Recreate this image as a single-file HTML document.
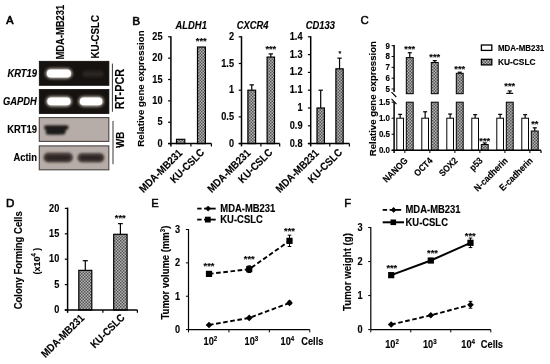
<!DOCTYPE html><html><head><meta charset="utf-8"><style>html,body{margin:0;padding:0;background:#fff;width:550px;height:364px;overflow:hidden}svg{display:block}text{font-family:'Liberation Sans', Arial, sans-serif;fill:#000;stroke:#000;stroke-width:0.12px}</style></head><body>
<svg width="550" height="364" viewBox="0 0 550 364">
<defs>
<pattern id="hat" width="3" height="3" patternUnits="userSpaceOnUse"><rect width="3" height="3" fill="#b4b4b4"/><rect x="0" y="0" width="1.5" height="1.5" fill="#555"/><rect x="1.5" y="1.5" width="1.5" height="1.5" fill="#555"/></pattern>
<filter id="blur1" x="-50%" y="-50%" width="200%" height="200%"><feGaussianBlur stdDeviation="1.6"/></filter>
<filter id="blur2" x="-50%" y="-50%" width="200%" height="200%"><feGaussianBlur stdDeviation="1.1"/></filter>
<filter id="blur3" x="-50%" y="-50%" width="200%" height="200%"><feGaussianBlur stdDeviation="0.6"/></filter>
</defs>
<rect width="550" height="364" fill="#fff"/>
<text transform="translate(6.30 23.90)" font-size="10.8" font-weight="normal" style="stroke-width:0.7px">A</text>
<text transform="translate(64.30 59.50) rotate(-90) scale(1 1.12)" font-size="9.4" font-weight="bold">MDA-MB231</text>
<text transform="translate(99.30 58.60) rotate(-90) scale(1 1.04)" font-size="9.7" font-weight="bold">KU-CSLC</text>
<rect x="39.30" y="61.30" width="69.60" height="24.00" fill="#15120f" stroke="#0d0b0a" stroke-width="0.8"/>
<rect x="39.30" y="89.50" width="69.60" height="24.00" fill="#15120f" stroke="#0d0b0a" stroke-width="0.8"/>
<rect x="45.60" y="68.40" width="26.60" height="10.20" rx="5.10" fill="#cfc6bc" filter="url(#blur1)"/>
<rect x="46.80" y="69.60" width="24.20" height="7.80" rx="3.90" fill="#fff" filter="url(#blur3)"/>
<rect x="82.5" y="71" width="21" height="6" rx="3" fill="#2c2521" filter="url(#blur1)"/>
<rect x="46.10" y="96.40" width="25.60" height="10.00" rx="5.00" fill="#cfc6bc" filter="url(#blur1)"/>
<rect x="47.30" y="97.60" width="23.20" height="7.60" rx="3.80" fill="#fff" filter="url(#blur3)"/>
<rect x="78.60" y="96.40" width="25.00" height="10.00" rx="5.00" fill="#cfc6bc" filter="url(#blur1)"/>
<rect x="79.80" y="97.60" width="22.60" height="7.60" rx="3.80" fill="#fff" filter="url(#blur3)"/>
<rect x="39.30" y="117.60" width="69.50" height="23.80" fill="#b7ada8" stroke="#4a4442" stroke-width="1.1"/>
<rect x="39.30" y="145.90" width="69.50" height="23.90" fill="#b7ada8" stroke="#4a4442" stroke-width="1.1"/>
<path d="M44 127.3 Q44 125.3 47 125.2 L66 125.3 Q69 125.6 68.6 127.8 Q68 129.4 65.8 130.2 Q65.6 132.8 64.6 134.2 Q58 134.9 50 134.7 L46.2 134.2 Q45.2 132.2 46.2 130.6 Q44.2 129.6 44 127.3 Z" fill="#1f1b1a" filter="url(#blur2)"/>
<rect x="43.4" y="152.6" width="29.6" height="9.9" rx="4.9" fill="#4a403d" filter="url(#blur2)"/>
<rect x="77.4" y="153.1" width="27" height="9.3" rx="4.6" fill="#4a403d" filter="url(#blur2)"/>
<rect x="46" y="155.5" width="24" height="4.5" rx="2.2" fill="#2a2321" filter="url(#blur2)"/>
<rect x="80" y="155.8" width="22" height="4" rx="2" fill="#2a2321" filter="url(#blur2)"/>
<text transform="translate(37.10 76.80) scale(1 1.12)" font-size="9.45" text-anchor="end" font-weight="bold" font-style="italic">KRT19</text>
<text transform="translate(36.80 105.20) scale(1 1.12)" font-size="9.4" text-anchor="end" font-weight="bold" font-style="italic">GAPDH</text>
<text transform="translate(36.90 132.80) scale(1 1.12)" font-size="9.4" text-anchor="end" font-weight="bold">KRT19</text>
<text transform="translate(36.90 160.80) scale(1 1.12)" font-size="9.4" text-anchor="end" font-weight="bold">Actin</text>
<line x1="112.40" y1="63.60" x2="112.40" y2="111.80" stroke="#222" stroke-width="0.9"/>
<text transform="translate(123.50 109.30) rotate(-90) scale(1 1.12)" font-size="10.9" font-weight="bold">RT-PCR</text>
<line x1="113.00" y1="121.00" x2="113.00" y2="164.20" stroke="#222" stroke-width="0.9"/>
<text transform="translate(123.90 148.00) rotate(-90) scale(1 1.12)" font-size="9.8" font-weight="bold">WB</text>
<text transform="translate(132.20 24.60)" font-size="11.8" font-weight="normal" style="stroke-width:0.6px">B</text>
<text transform="translate(143.50 88.60) rotate(-90)" font-size="9.7" text-anchor="middle" font-weight="bold">Relative gene expression</text>
<text transform="translate(191.20 29.00) scale(1 1.12)" font-size="9.4" text-anchor="middle" font-weight="bold" font-style="italic">ALDH1</text>
<line x1="170.90" y1="36.20" x2="170.90" y2="146.40" stroke="#000" stroke-width="1.5"/>
<line x1="168.10" y1="143.60" x2="170.90" y2="143.60" stroke="#000" stroke-width="1.2"/>
<text transform="translate(162.60 146.60) scale(1 1.12)" font-size="9.2" text-anchor="end" font-weight="bold">0</text>
<line x1="168.10" y1="122.24" x2="170.90" y2="122.24" stroke="#000" stroke-width="1.2"/>
<text transform="translate(162.60 125.24) scale(1 1.12)" font-size="9.2" text-anchor="end" font-weight="bold">5</text>
<line x1="168.10" y1="100.88" x2="170.90" y2="100.88" stroke="#000" stroke-width="1.2"/>
<text transform="translate(162.60 103.88) scale(1 1.12)" font-size="9.2" text-anchor="end" font-weight="bold">10</text>
<line x1="168.10" y1="79.52" x2="170.90" y2="79.52" stroke="#000" stroke-width="1.2"/>
<text transform="translate(162.60 82.52) scale(1 1.12)" font-size="9.2" text-anchor="end" font-weight="bold">15</text>
<line x1="168.10" y1="58.16" x2="170.90" y2="58.16" stroke="#000" stroke-width="1.2"/>
<text transform="translate(162.60 61.16) scale(1 1.12)" font-size="9.2" text-anchor="end" font-weight="bold">20</text>
<line x1="168.10" y1="36.80" x2="170.90" y2="36.80" stroke="#000" stroke-width="1.2"/>
<text transform="translate(162.60 39.80) scale(1 1.12)" font-size="9.2" text-anchor="end" font-weight="bold">25</text>
<rect x="176.50" y="139.33" width="8.30" height="4.27" fill="url(#hat)" stroke="#000" stroke-width="1.2"/>
<rect x="197.50" y="47.05" width="7.90" height="96.55" fill="url(#hat)" stroke="#000" stroke-width="1.2"/>
<line x1="168.10" y1="143.60" x2="211.40" y2="143.60" stroke="#000" stroke-width="1.5"/>
<line x1="190.90" y1="143.60" x2="190.90" y2="146.40" stroke="#000" stroke-width="1.2"/>
<line x1="211.40" y1="143.60" x2="211.40" y2="146.40" stroke="#000" stroke-width="1.2"/>
<text transform="translate(201.20 44.30)" font-size="9.3" text-anchor="middle" font-weight="bold">***</text>
<text transform="translate(183.10 153.60) rotate(-45) scale(1 1.12)" font-size="9.6" text-anchor="end" font-weight="bold">MDA-MB231</text>
<text transform="translate(205.00 153.10) rotate(-45) scale(1 1.12)" font-size="9.6" text-anchor="end" font-weight="bold">KU-CSLC</text>
<text transform="translate(252.60 29.00) scale(1 1.12)" font-size="9.4" text-anchor="middle" font-weight="bold" font-style="italic">CXCR4</text>
<line x1="241.50" y1="36.20" x2="241.50" y2="146.40" stroke="#000" stroke-width="1.5"/>
<line x1="238.70" y1="143.60" x2="241.50" y2="143.60" stroke="#000" stroke-width="1.2"/>
<text transform="translate(234.00 146.60) scale(1 1.12)" font-size="9.2" text-anchor="end" font-weight="bold">0</text>
<line x1="238.70" y1="116.90" x2="241.50" y2="116.90" stroke="#000" stroke-width="1.2"/>
<text transform="translate(234.00 119.90) scale(1 1.12)" font-size="9.2" text-anchor="end" font-weight="bold">0.5</text>
<line x1="238.70" y1="90.20" x2="241.50" y2="90.20" stroke="#000" stroke-width="1.2"/>
<text transform="translate(234.00 93.20) scale(1 1.12)" font-size="9.2" text-anchor="end" font-weight="bold">1</text>
<line x1="238.70" y1="63.50" x2="241.50" y2="63.50" stroke="#000" stroke-width="1.2"/>
<text transform="translate(234.00 66.50) scale(1 1.12)" font-size="9.2" text-anchor="end" font-weight="bold">1.5</text>
<line x1="238.70" y1="36.80" x2="241.50" y2="36.80" stroke="#000" stroke-width="1.2"/>
<text transform="translate(234.00 39.80) scale(1 1.12)" font-size="9.2" text-anchor="end" font-weight="bold">2</text>
<line x1="251.75" y1="90.20" x2="251.75" y2="84.86" stroke="#000" stroke-width="1.2"/>
<line x1="249.55" y1="84.86" x2="253.95" y2="84.86" stroke="#000" stroke-width="1.2"/>
<rect x="247.90" y="90.20" width="7.70" height="53.40" fill="url(#hat)" stroke="#000" stroke-width="1.2"/>
<line x1="270.80" y1="57.09" x2="270.80" y2="53.89" stroke="#000" stroke-width="1.2"/>
<line x1="268.60" y1="53.89" x2="273.00" y2="53.89" stroke="#000" stroke-width="1.2"/>
<rect x="267.10" y="57.09" width="7.40" height="86.51" fill="url(#hat)" stroke="#000" stroke-width="1.2"/>
<line x1="238.70" y1="143.60" x2="279.70" y2="143.60" stroke="#000" stroke-width="1.5"/>
<line x1="260.90" y1="143.60" x2="260.90" y2="146.40" stroke="#000" stroke-width="1.2"/>
<line x1="279.70" y1="143.60" x2="279.70" y2="146.40" stroke="#000" stroke-width="1.2"/>
<text transform="translate(270.80 52.40)" font-size="9.3" text-anchor="middle" font-weight="bold">***</text>
<text transform="translate(251.30 153.60) rotate(-45) scale(1 1.12)" font-size="9.6" text-anchor="end" font-weight="bold">MDA-MB231</text>
<text transform="translate(273.10 153.10) rotate(-45) scale(1 1.12)" font-size="9.6" text-anchor="end" font-weight="bold">KU-CSLC</text>
<text transform="translate(320.40 29.00) scale(1 1.12)" font-size="9.4" text-anchor="middle" font-weight="bold" font-style="italic">CD133</text>
<line x1="310.70" y1="36.20" x2="310.70" y2="146.40" stroke="#000" stroke-width="1.5"/>
<line x1="307.90" y1="143.60" x2="310.70" y2="143.60" stroke="#000" stroke-width="1.2"/>
<text transform="translate(302.50 146.60) scale(1 1.12)" font-size="9.2" text-anchor="end" font-weight="bold">0.8</text>
<line x1="307.90" y1="125.80" x2="310.70" y2="125.80" stroke="#000" stroke-width="1.2"/>
<text transform="translate(302.50 128.80) scale(1 1.12)" font-size="9.2" text-anchor="end" font-weight="bold">0.9</text>
<line x1="307.90" y1="108.00" x2="310.70" y2="108.00" stroke="#000" stroke-width="1.2"/>
<text transform="translate(302.50 111.00) scale(1 1.12)" font-size="9.2" text-anchor="end" font-weight="bold">1</text>
<line x1="307.90" y1="90.20" x2="310.70" y2="90.20" stroke="#000" stroke-width="1.2"/>
<text transform="translate(302.50 93.20) scale(1 1.12)" font-size="9.2" text-anchor="end" font-weight="bold">1.1</text>
<line x1="307.90" y1="72.40" x2="310.70" y2="72.40" stroke="#000" stroke-width="1.2"/>
<text transform="translate(302.50 75.40) scale(1 1.12)" font-size="9.2" text-anchor="end" font-weight="bold">1.2</text>
<line x1="307.90" y1="54.60" x2="310.70" y2="54.60" stroke="#000" stroke-width="1.2"/>
<text transform="translate(302.50 57.60) scale(1 1.12)" font-size="9.2" text-anchor="end" font-weight="bold">1.3</text>
<line x1="307.90" y1="36.80" x2="310.70" y2="36.80" stroke="#000" stroke-width="1.2"/>
<text transform="translate(302.50 39.80) scale(1 1.12)" font-size="9.2" text-anchor="end" font-weight="bold">1.4</text>
<line x1="320.70" y1="108.00" x2="320.70" y2="90.20" stroke="#000" stroke-width="1.2"/>
<line x1="318.50" y1="90.20" x2="322.90" y2="90.20" stroke="#000" stroke-width="1.2"/>
<rect x="317.00" y="108.00" width="7.40" height="35.60" fill="url(#hat)" stroke="#000" stroke-width="1.2"/>
<line x1="339.55" y1="68.84" x2="339.55" y2="58.16" stroke="#000" stroke-width="1.2"/>
<line x1="337.35" y1="58.16" x2="341.75" y2="58.16" stroke="#000" stroke-width="1.2"/>
<rect x="335.90" y="68.84" width="7.30" height="74.76" fill="url(#hat)" stroke="#000" stroke-width="1.2"/>
<line x1="307.90" y1="143.60" x2="349.40" y2="143.60" stroke="#000" stroke-width="1.5"/>
<line x1="329.80" y1="143.60" x2="329.80" y2="146.40" stroke="#000" stroke-width="1.2"/>
<line x1="349.40" y1="143.60" x2="349.40" y2="146.40" stroke="#000" stroke-width="1.2"/>
<text transform="translate(339.90 56.30)" font-size="7.0" text-anchor="middle" font-weight="bold">*</text>
<text transform="translate(319.60 153.60) rotate(-45) scale(1 1.12)" font-size="9.6" text-anchor="end" font-weight="bold">MDA-MB231</text>
<text transform="translate(342.80 153.10) rotate(-45) scale(1 1.12)" font-size="9.6" text-anchor="end" font-weight="bold">KU-CSLC</text>
<text transform="translate(360.60 24.00)" font-size="11.4" font-weight="normal" style="stroke-width:0.45px">C</text>
<text transform="translate(375.60 98.70) rotate(-90)" font-size="9.6" text-anchor="middle" font-weight="bold">Relative gene expression</text>
<line x1="394.10" y1="45.00" x2="394.10" y2="92.00" stroke="#000" stroke-width="1.5"/>
<line x1="394.10" y1="102.30" x2="394.10" y2="153.00" stroke="#000" stroke-width="1.5"/>
<line x1="391.60" y1="45.70" x2="394.10" y2="45.70" stroke="#000" stroke-width="1.0"/>
<text transform="translate(390.00 48.60) scale(1 1.12)" font-size="8.0" text-anchor="end" font-weight="bold">9</text>
<line x1="391.60" y1="56.53" x2="394.10" y2="56.53" stroke="#000" stroke-width="1.0"/>
<text transform="translate(390.00 59.43) scale(1 1.12)" font-size="8.0" text-anchor="end" font-weight="bold">8</text>
<line x1="391.60" y1="67.36" x2="394.10" y2="67.36" stroke="#000" stroke-width="1.0"/>
<text transform="translate(390.00 70.26) scale(1 1.12)" font-size="8.0" text-anchor="end" font-weight="bold">7</text>
<line x1="391.60" y1="78.19" x2="394.10" y2="78.19" stroke="#000" stroke-width="1.0"/>
<text transform="translate(390.00 81.09) scale(1 1.12)" font-size="8.0" text-anchor="end" font-weight="bold">6</text>
<line x1="391.60" y1="89.02" x2="394.10" y2="89.02" stroke="#000" stroke-width="1.0"/>
<text transform="translate(390.00 91.92) scale(1 1.12)" font-size="8.0" text-anchor="end" font-weight="bold">5</text>
<line x1="391.60" y1="102.15" x2="394.10" y2="102.15" stroke="#000" stroke-width="1.0"/>
<text transform="translate(390.00 105.05) scale(1 1.12)" font-size="8.0" text-anchor="end" font-weight="bold">1.5</text>
<line x1="391.60" y1="118.20" x2="394.10" y2="118.20" stroke="#000" stroke-width="1.0"/>
<text transform="translate(390.00 121.10) scale(1 1.12)" font-size="8.0" text-anchor="end" font-weight="bold">1.0</text>
<line x1="391.60" y1="134.25" x2="394.10" y2="134.25" stroke="#000" stroke-width="1.0"/>
<text transform="translate(390.00 137.15) scale(1 1.12)" font-size="8.0" text-anchor="end" font-weight="bold">0.5</text>
<line x1="391.60" y1="150.30" x2="394.10" y2="150.30" stroke="#000" stroke-width="1.0"/>
<text transform="translate(390.00 153.20) scale(1 1.12)" font-size="8.0" text-anchor="end" font-weight="bold">0.0</text>
<line x1="391.50" y1="92.20" x2="396.30" y2="97.00" stroke="#000" stroke-width="1.1"/>
<line x1="391.50" y1="98.80" x2="396.50" y2="104.20" stroke="#000" stroke-width="1.1"/>
<line x1="400.15" y1="118.20" x2="400.15" y2="114.35" stroke="#000" stroke-width="1.2"/>
<line x1="398.15" y1="114.35" x2="402.15" y2="114.35" stroke="#000" stroke-width="1.2"/>
<rect x="396.80" y="118.20" width="6.70" height="32.10" fill="#fff" stroke="#000" stroke-width="1.0"/>
<line x1="409.75" y1="57.61" x2="409.75" y2="52.74" stroke="#000" stroke-width="1.2"/>
<line x1="407.75" y1="52.74" x2="411.75" y2="52.74" stroke="#000" stroke-width="1.2"/>
<rect x="406.30" y="57.61" width="6.90" height="36.09" fill="url(#hat)" stroke="#000" stroke-width="1"/>
<rect x="406.30" y="102.2" width="6.90" height="48.10" fill="url(#hat)" stroke="#000" stroke-width="1"/>
<text transform="translate(409.75 51.60)" font-size="9.3" text-anchor="middle" font-weight="bold">***</text>
<line x1="404.90" y1="150.30" x2="404.90" y2="153.00" stroke="#000" stroke-width="1.0"/>
<text transform="translate(408.30 161.30) rotate(-45) scale(1 1.12)" font-size="8.3" text-anchor="end" font-weight="bold">NANOG</text>
<line x1="425.15" y1="118.20" x2="425.15" y2="111.78" stroke="#000" stroke-width="1.2"/>
<line x1="423.15" y1="111.78" x2="427.15" y2="111.78" stroke="#000" stroke-width="1.2"/>
<rect x="421.80" y="118.20" width="6.70" height="32.10" fill="#fff" stroke="#000" stroke-width="1.0"/>
<line x1="434.75" y1="62.49" x2="434.75" y2="60.65" stroke="#000" stroke-width="1.2"/>
<line x1="432.75" y1="60.65" x2="436.75" y2="60.65" stroke="#000" stroke-width="1.2"/>
<rect x="431.30" y="62.49" width="6.90" height="31.21" fill="url(#hat)" stroke="#000" stroke-width="1"/>
<rect x="431.30" y="102.2" width="6.90" height="48.10" fill="url(#hat)" stroke="#000" stroke-width="1"/>
<text transform="translate(434.75 60.10)" font-size="9.3" text-anchor="middle" font-weight="bold">***</text>
<line x1="429.90" y1="150.30" x2="429.90" y2="153.00" stroke="#000" stroke-width="1.0"/>
<text transform="translate(433.30 161.30) rotate(-45) scale(1 1.12)" font-size="8.3" text-anchor="end" font-weight="bold">OCT4</text>
<line x1="450.15" y1="118.20" x2="450.15" y2="114.03" stroke="#000" stroke-width="1.2"/>
<line x1="448.15" y1="114.03" x2="452.15" y2="114.03" stroke="#000" stroke-width="1.2"/>
<rect x="446.80" y="118.20" width="6.70" height="32.10" fill="#fff" stroke="#000" stroke-width="1.0"/>
<line x1="459.75" y1="73.32" x2="459.75" y2="72.23" stroke="#000" stroke-width="1.2"/>
<line x1="457.75" y1="72.23" x2="461.75" y2="72.23" stroke="#000" stroke-width="1.2"/>
<rect x="456.30" y="73.32" width="6.90" height="20.38" fill="url(#hat)" stroke="#000" stroke-width="1"/>
<rect x="456.30" y="102.2" width="6.90" height="48.10" fill="url(#hat)" stroke="#000" stroke-width="1"/>
<text transform="translate(459.75 72.20)" font-size="9.3" text-anchor="middle" font-weight="bold">***</text>
<line x1="454.90" y1="150.30" x2="454.90" y2="153.00" stroke="#000" stroke-width="1.0"/>
<text transform="translate(458.30 161.30) rotate(-45) scale(1 1.12)" font-size="8.3" text-anchor="end" font-weight="bold">SOX2</text>
<line x1="475.15" y1="118.20" x2="475.15" y2="114.67" stroke="#000" stroke-width="1.2"/>
<line x1="473.15" y1="114.67" x2="477.15" y2="114.67" stroke="#000" stroke-width="1.2"/>
<rect x="471.80" y="118.20" width="6.70" height="32.10" fill="#fff" stroke="#000" stroke-width="1.0"/>
<line x1="484.75" y1="144.52" x2="484.75" y2="142.92" stroke="#000" stroke-width="1.2"/>
<line x1="482.75" y1="142.92" x2="486.75" y2="142.92" stroke="#000" stroke-width="1.2"/>
<rect x="481.30" y="144.52" width="6.90" height="5.78" fill="url(#hat)" stroke="#000" stroke-width="1.0"/>
<text transform="translate(484.75 143.60)" font-size="9.3" text-anchor="middle" font-weight="bold">***</text>
<line x1="479.90" y1="150.30" x2="479.90" y2="153.00" stroke="#000" stroke-width="1.0"/>
<text transform="translate(483.30 161.30) rotate(-45) scale(1 1.12)" font-size="8.3" text-anchor="end" font-weight="bold">p53</text>
<line x1="500.15" y1="118.20" x2="500.15" y2="114.35" stroke="#000" stroke-width="1.2"/>
<line x1="498.15" y1="114.35" x2="502.15" y2="114.35" stroke="#000" stroke-width="1.2"/>
<rect x="496.80" y="118.20" width="6.70" height="32.10" fill="#fff" stroke="#000" stroke-width="1.0"/>
<line x1="509.75" y1="93.35" x2="509.75" y2="90.97" stroke="#000" stroke-width="1.2"/>
<line x1="507.75" y1="90.97" x2="511.75" y2="90.97" stroke="#000" stroke-width="1.2"/>
<line x1="506.30" y1="93.35" x2="513.20" y2="93.35" stroke="#000" stroke-width="1.2"/>
<rect x="506.30" y="102.2" width="6.90" height="48.10" fill="url(#hat)" stroke="#000" stroke-width="1"/>
<text transform="translate(509.75 88.60)" font-size="9.3" text-anchor="middle" font-weight="bold">***</text>
<line x1="504.90" y1="150.30" x2="504.90" y2="153.00" stroke="#000" stroke-width="1.0"/>
<text transform="translate(508.30 161.30) rotate(-45) scale(1 1.12)" font-size="8.3" text-anchor="end" font-weight="bold">N-cadherin</text>
<line x1="525.15" y1="118.20" x2="525.15" y2="114.67" stroke="#000" stroke-width="1.2"/>
<line x1="523.15" y1="114.67" x2="527.15" y2="114.67" stroke="#000" stroke-width="1.2"/>
<rect x="521.80" y="118.20" width="6.70" height="32.10" fill="#fff" stroke="#000" stroke-width="1.0"/>
<line x1="534.75" y1="131.04" x2="534.75" y2="127.83" stroke="#000" stroke-width="1.2"/>
<line x1="532.75" y1="127.83" x2="536.75" y2="127.83" stroke="#000" stroke-width="1.2"/>
<rect x="531.30" y="131.04" width="6.90" height="19.26" fill="url(#hat)" stroke="#000" stroke-width="1.0"/>
<text transform="translate(534.75 126.90)" font-size="9.3" text-anchor="middle" font-weight="bold">**</text>
<line x1="529.90" y1="150.30" x2="529.90" y2="153.00" stroke="#000" stroke-width="1.0"/>
<text transform="translate(533.30 161.30) rotate(-45) scale(1 1.12)" font-size="8.3" text-anchor="end" font-weight="bold">E-cadherin</text>
<line x1="391.60" y1="150.30" x2="541.00" y2="150.30" stroke="#000" stroke-width="1.5"/>
<line x1="541.00" y1="150.30" x2="541.00" y2="153.00" stroke="#000" stroke-width="1.2"/>
<rect x="481.40" y="45.00" width="10.40" height="5.40" fill="#fff" stroke="#000" stroke-width="1.3"/>
<rect x="481.40" y="59.30" width="10.40" height="5.60" fill="url(#hat)" stroke="#000" stroke-width="1.3"/>
<text transform="translate(497.90 51.00) scale(1 1.12)" font-size="7.95" font-weight="bold">MDA-MB231</text>
<text transform="translate(497.90 65.20) scale(1 1.12)" font-size="8.4" font-weight="bold">KU-CSLC</text>
<text transform="translate(5.90 206.90)" font-size="11.6" font-weight="normal" style="stroke-width:0.6px">D</text>
<text transform="translate(21.80 260.30) rotate(-90) scale(1 1.1)" font-size="9.5" text-anchor="middle" font-weight="bold">Colony Forming Cells</text>
<text transform="translate(39.80 261.10) rotate(-90) scale(1 1.05)" font-size="9.0" text-anchor="middle" font-weight="bold">(x10<tspan font-size="6" dy="-3.4">4</tspan><tspan dy="3.4"> )</tspan></text>
<line x1="67.60" y1="207.60" x2="67.60" y2="312.80" stroke="#000" stroke-width="1.5"/>
<line x1="64.80" y1="310.00" x2="67.60" y2="310.00" stroke="#000" stroke-width="1.2"/>
<text transform="translate(59.30 313.20) scale(1 1.12)" font-size="9.2" text-anchor="end" font-weight="bold">0</text>
<line x1="64.80" y1="284.60" x2="67.60" y2="284.60" stroke="#000" stroke-width="1.2"/>
<text transform="translate(59.30 287.80) scale(1 1.12)" font-size="9.2" text-anchor="end" font-weight="bold">5</text>
<line x1="64.80" y1="259.20" x2="67.60" y2="259.20" stroke="#000" stroke-width="1.2"/>
<text transform="translate(59.30 262.40) scale(1 1.12)" font-size="9.2" text-anchor="end" font-weight="bold">10</text>
<line x1="64.80" y1="233.80" x2="67.60" y2="233.80" stroke="#000" stroke-width="1.2"/>
<text transform="translate(59.30 237.00) scale(1 1.12)" font-size="9.2" text-anchor="end" font-weight="bold">15</text>
<line x1="64.80" y1="208.40" x2="67.60" y2="208.40" stroke="#000" stroke-width="1.2"/>
<text transform="translate(59.30 211.60) scale(1 1.12)" font-size="9.2" text-anchor="end" font-weight="bold">20</text>
<line x1="85.30" y1="270.38" x2="85.30" y2="260.72" stroke="#000" stroke-width="1.2"/>
<line x1="82.70" y1="260.72" x2="87.90" y2="260.72" stroke="#000" stroke-width="1.2"/>
<rect x="78.80" y="270.38" width="13.00" height="39.62" fill="url(#hat)" stroke="#000" stroke-width="1.2"/>
<line x1="120.40" y1="234.31" x2="120.40" y2="223.64" stroke="#000" stroke-width="1.2"/>
<line x1="118.00" y1="223.64" x2="122.80" y2="223.64" stroke="#000" stroke-width="1.2"/>
<rect x="113.70" y="234.31" width="13.40" height="75.69" fill="url(#hat)" stroke="#000" stroke-width="1.2"/>
<text transform="translate(120.20 221.30)" font-size="9.3" text-anchor="middle" font-weight="bold">***</text>
<line x1="64.80" y1="310.00" x2="137.40" y2="310.00" stroke="#000" stroke-width="1.5"/>
<line x1="102.90" y1="310.00" x2="102.90" y2="312.80" stroke="#000" stroke-width="1.2"/>
<line x1="137.40" y1="310.00" x2="137.40" y2="312.80" stroke="#000" stroke-width="1.2"/>
<text transform="translate(85.00 318.60) rotate(-45) scale(1 1.12)" font-size="9.6" text-anchor="end" font-weight="bold">MDA-MB231</text>
<text transform="translate(125.40 318.30) rotate(-45) scale(1 1.12)" font-size="9.6" text-anchor="end" font-weight="bold">KU-CSLC</text>
<text transform="translate(151.20 207.40)" font-size="11.2" font-weight="normal" style="stroke-width:0.45px">E</text>
<line x1="197.20" y1="208.60" x2="201.60" y2="208.60" stroke="#000" stroke-width="1.8"/>
<line x1="204.10" y1="208.60" x2="215.70" y2="208.60" stroke="#000" stroke-width="1.8"/>
<path d="M208.10 205.70 L211.00 208.60 L208.10 211.50 L205.20 208.60 Z" fill="#000"/>
<line x1="197.20" y1="219.60" x2="201.60" y2="219.60" stroke="#000" stroke-width="1.8"/>
<line x1="204.10" y1="219.60" x2="215.70" y2="219.60" stroke="#000" stroke-width="1.8"/>
<rect x="204.90" y="216.70" width="5.80" height="5.80" fill="#000"/>
<text transform="translate(220.30 212.10) scale(1 1.12)" font-size="9.45" font-weight="bold">MDA-MB231</text>
<text transform="translate(220.30 223.00) scale(1 1.12)" font-size="9.45" font-weight="bold">KU-CSLC</text>
<line x1="188.50" y1="229.00" x2="188.50" y2="329.60" stroke="#000" stroke-width="1.2"/>
<line x1="185.90" y1="329.60" x2="188.50" y2="329.60" stroke="#000" stroke-width="1.0"/>
<text transform="translate(180.20 333.20) scale(1 1.12)" font-size="9.2" text-anchor="end" font-weight="bold">0</text>
<line x1="185.90" y1="296.23" x2="188.50" y2="296.23" stroke="#000" stroke-width="1.0"/>
<text transform="translate(180.20 299.83) scale(1 1.12)" font-size="9.2" text-anchor="end" font-weight="bold">1</text>
<line x1="185.90" y1="262.87" x2="188.50" y2="262.87" stroke="#000" stroke-width="1.0"/>
<text transform="translate(180.20 266.47) scale(1 1.12)" font-size="9.2" text-anchor="end" font-weight="bold">2</text>
<line x1="185.90" y1="229.50" x2="188.50" y2="229.50" stroke="#000" stroke-width="1.0"/>
<text transform="translate(180.20 233.10) scale(1 1.12)" font-size="9.2" text-anchor="end" font-weight="bold">3</text>
<line x1="188.50" y1="329.60" x2="309.80" y2="329.60" stroke="#000" stroke-width="1.2"/>
<line x1="188.50" y1="329.60" x2="188.50" y2="332.40" stroke="#000" stroke-width="1.0"/>
<line x1="228.93" y1="329.60" x2="228.93" y2="332.40" stroke="#000" stroke-width="1.0"/>
<line x1="269.37" y1="329.60" x2="269.37" y2="332.40" stroke="#000" stroke-width="1.0"/>
<line x1="309.80" y1="329.60" x2="309.80" y2="332.40" stroke="#000" stroke-width="1.0"/>
<path d="M209.00 324.93 L249.20 317.92 L289.50 302.91" fill="none" stroke="#000" stroke-width="1.9" stroke-dasharray="4.6,2.6"/>
<path d="M209.00 321.63 L212.30 324.93 L209.00 328.23 L205.70 324.93 Z" fill="#000"/>
<path d="M249.20 314.62 L252.50 317.92 L249.20 321.22 L245.90 317.92 Z" fill="#000"/>
<line x1="289.50" y1="304.58" x2="289.50" y2="301.24" stroke="#000" stroke-width="1.0"/>
<line x1="287.70" y1="304.58" x2="291.30" y2="304.58" stroke="#000" stroke-width="1.0"/>
<line x1="287.70" y1="301.24" x2="291.30" y2="301.24" stroke="#000" stroke-width="1.0"/>
<path d="M289.50 299.61 L292.80 302.91 L289.50 306.21 L286.20 302.91 Z" fill="#000"/>
<path d="M209.00 273.88 L249.20 269.21 L289.50 240.84" fill="none" stroke="#000" stroke-width="1.9" stroke-dasharray="4.6,2.6"/>
<line x1="209.00" y1="276.21" x2="209.00" y2="271.54" stroke="#000" stroke-width="1.0"/>
<line x1="207.20" y1="276.21" x2="210.80" y2="276.21" stroke="#000" stroke-width="1.0"/>
<line x1="207.20" y1="271.54" x2="210.80" y2="271.54" stroke="#000" stroke-width="1.0"/>
<rect x="205.90" y="270.78" width="6.20" height="6.20" fill="#000"/>
<line x1="249.20" y1="272.54" x2="249.20" y2="265.87" stroke="#000" stroke-width="1.0"/>
<line x1="247.40" y1="272.54" x2="251.00" y2="272.54" stroke="#000" stroke-width="1.0"/>
<line x1="247.40" y1="265.87" x2="251.00" y2="265.87" stroke="#000" stroke-width="1.0"/>
<rect x="246.10" y="266.11" width="6.20" height="6.20" fill="#000"/>
<line x1="289.50" y1="246.52" x2="289.50" y2="235.17" stroke="#000" stroke-width="1.0"/>
<line x1="287.70" y1="246.52" x2="291.30" y2="246.52" stroke="#000" stroke-width="1.0"/>
<line x1="287.70" y1="235.17" x2="291.30" y2="235.17" stroke="#000" stroke-width="1.0"/>
<rect x="286.40" y="237.74" width="6.20" height="6.20" fill="#000"/>
<text transform="translate(209.00 268.50)" font-size="9.3" text-anchor="middle" font-weight="bold">***</text>
<text transform="translate(249.20 262.20)" font-size="9.3" text-anchor="middle" font-weight="bold">***</text>
<text transform="translate(289.50 234.40)" font-size="9.3" text-anchor="middle" font-weight="bold">***</text>
<text transform="translate(169.20 272.60) rotate(-90) scale(1 1.1)" font-size="9.5" text-anchor="middle" font-weight="bold">Tumor volume (mm<tspan font-size="6" dy="-3.4">3</tspan><tspan dy="3.4">)</tspan></text>
<text transform="translate(203.60 344.70) scale(1 1.12)" font-size="9.2" font-weight="bold">10<tspan font-size="6.2" dy="-3.3">2</tspan></text>
<text transform="translate(244.60 344.70) scale(1 1.12)" font-size="9.2" font-weight="bold">10<tspan font-size="6.2" dy="-3.3">3</tspan></text>
<text transform="translate(280.60 344.70) scale(1 1.12)" font-size="9.2" font-weight="bold">10<tspan font-size="6.2" dy="-3.3">4</tspan></text>
<text transform="translate(301.20 344.70) scale(1 1.12)" font-size="9.3" font-weight="bold">Cells</text>
<text transform="translate(344.20 207.40)" font-size="11.2" font-weight="normal" style="stroke-width:0.45px">F</text>
<line x1="382.70" y1="209.90" x2="387.10" y2="209.90" stroke="#000" stroke-width="1.8"/>
<line x1="389.60" y1="209.90" x2="401.20" y2="209.90" stroke="#000" stroke-width="1.8"/>
<path d="M393.60 207.00 L396.50 209.90 L393.60 212.80 L390.70 209.90 Z" fill="#000"/>
<line x1="382.70" y1="222.30" x2="404.00" y2="222.30" stroke="#000" stroke-width="2.0"/>
<rect x="390.50" y="219.50" width="5.60" height="5.60" fill="#000"/>
<text transform="translate(405.50 213.40) scale(1 1.12)" font-size="9.45" font-weight="bold">MDA-MB231</text>
<text transform="translate(405.50 225.70) scale(1 1.12)" font-size="9.45" font-weight="bold">KU-CSLC</text>
<line x1="370.80" y1="227.00" x2="370.80" y2="329.60" stroke="#000" stroke-width="1.2"/>
<line x1="368.20" y1="329.60" x2="370.80" y2="329.60" stroke="#000" stroke-width="1.0"/>
<text transform="translate(362.50 333.20) scale(1 1.12)" font-size="9.2" text-anchor="end" font-weight="bold">0</text>
<line x1="368.20" y1="295.57" x2="370.80" y2="295.57" stroke="#000" stroke-width="1.0"/>
<text transform="translate(362.50 299.17) scale(1 1.12)" font-size="9.2" text-anchor="end" font-weight="bold">1</text>
<line x1="368.20" y1="261.53" x2="370.80" y2="261.53" stroke="#000" stroke-width="1.0"/>
<text transform="translate(362.50 265.13) scale(1 1.12)" font-size="9.2" text-anchor="end" font-weight="bold">2</text>
<line x1="368.20" y1="227.50" x2="370.80" y2="227.50" stroke="#000" stroke-width="1.0"/>
<text transform="translate(362.50 231.10) scale(1 1.12)" font-size="9.2" text-anchor="end" font-weight="bold">3</text>
<line x1="370.80" y1="329.60" x2="490.80" y2="329.60" stroke="#000" stroke-width="1.2"/>
<line x1="370.80" y1="329.60" x2="370.80" y2="332.40" stroke="#000" stroke-width="1.0"/>
<line x1="410.80" y1="329.60" x2="410.80" y2="332.40" stroke="#000" stroke-width="1.0"/>
<line x1="450.80" y1="329.60" x2="450.80" y2="332.40" stroke="#000" stroke-width="1.0"/>
<line x1="490.80" y1="329.60" x2="490.80" y2="332.40" stroke="#000" stroke-width="1.0"/>
<path d="M391.20 324.50 L430.80 315.31 L470.50 304.76" fill="none" stroke="#000" stroke-width="1.9" stroke-dasharray="4.6,2.6"/>
<path d="M391.20 321.19 L394.50 324.50 L391.20 327.80 L387.90 324.50 Z" fill="#000"/>
<path d="M430.80 312.01 L434.10 315.31 L430.80 318.61 L427.50 315.31 Z" fill="#000"/>
<line x1="470.50" y1="308.16" x2="470.50" y2="301.35" stroke="#000" stroke-width="1.0"/>
<line x1="468.70" y1="308.16" x2="472.30" y2="308.16" stroke="#000" stroke-width="1.0"/>
<line x1="468.70" y1="301.35" x2="472.30" y2="301.35" stroke="#000" stroke-width="1.0"/>
<path d="M470.50 301.46 L473.80 304.76 L470.50 308.06 L467.20 304.76 Z" fill="#000"/>
<path d="M391.20 275.15 L430.80 260.51 L470.50 242.81" fill="none" stroke="#000" stroke-width="2.0"/>
<rect x="388.10" y="272.05" width="6.20" height="6.20" fill="#000"/>
<line x1="430.80" y1="262.55" x2="430.80" y2="258.47" stroke="#000" stroke-width="1.0"/>
<line x1="429.00" y1="262.55" x2="432.60" y2="262.55" stroke="#000" stroke-width="1.0"/>
<line x1="429.00" y1="258.47" x2="432.60" y2="258.47" stroke="#000" stroke-width="1.0"/>
<rect x="427.70" y="257.41" width="6.20" height="6.20" fill="#000"/>
<line x1="470.50" y1="247.58" x2="470.50" y2="238.05" stroke="#000" stroke-width="1.0"/>
<line x1="468.70" y1="247.58" x2="472.30" y2="247.58" stroke="#000" stroke-width="1.0"/>
<line x1="468.70" y1="238.05" x2="472.30" y2="238.05" stroke="#000" stroke-width="1.0"/>
<rect x="467.40" y="239.72" width="6.20" height="6.20" fill="#000"/>
<text transform="translate(391.80 270.90)" font-size="9.3" text-anchor="middle" font-weight="bold">***</text>
<text transform="translate(432.50 256.40)" font-size="9.3" text-anchor="middle" font-weight="bold">***</text>
<text transform="translate(470.20 238.60)" font-size="9.3" text-anchor="middle" font-weight="bold">***</text>
<text transform="translate(350.90 272.00) rotate(-90) scale(1 1.1)" font-size="9.7" text-anchor="middle" font-weight="bold">Tumor weight (g)</text>
<text transform="translate(385.20 347.60) scale(1 1.12)" font-size="9.2" font-weight="bold">10<tspan font-size="6.2" dy="-3.3">2</tspan></text>
<text transform="translate(423.00 347.60) scale(1 1.12)" font-size="9.2" font-weight="bold">10<tspan font-size="6.2" dy="-3.3">3</tspan></text>
<text transform="translate(461.30 347.60) scale(1 1.12)" font-size="9.2" font-weight="bold">10<tspan font-size="6.2" dy="-3.3">4</tspan></text>
<text transform="translate(480.80 347.60) scale(1 1.12)" font-size="9.3" font-weight="bold">Cells</text>
</svg></body></html>
